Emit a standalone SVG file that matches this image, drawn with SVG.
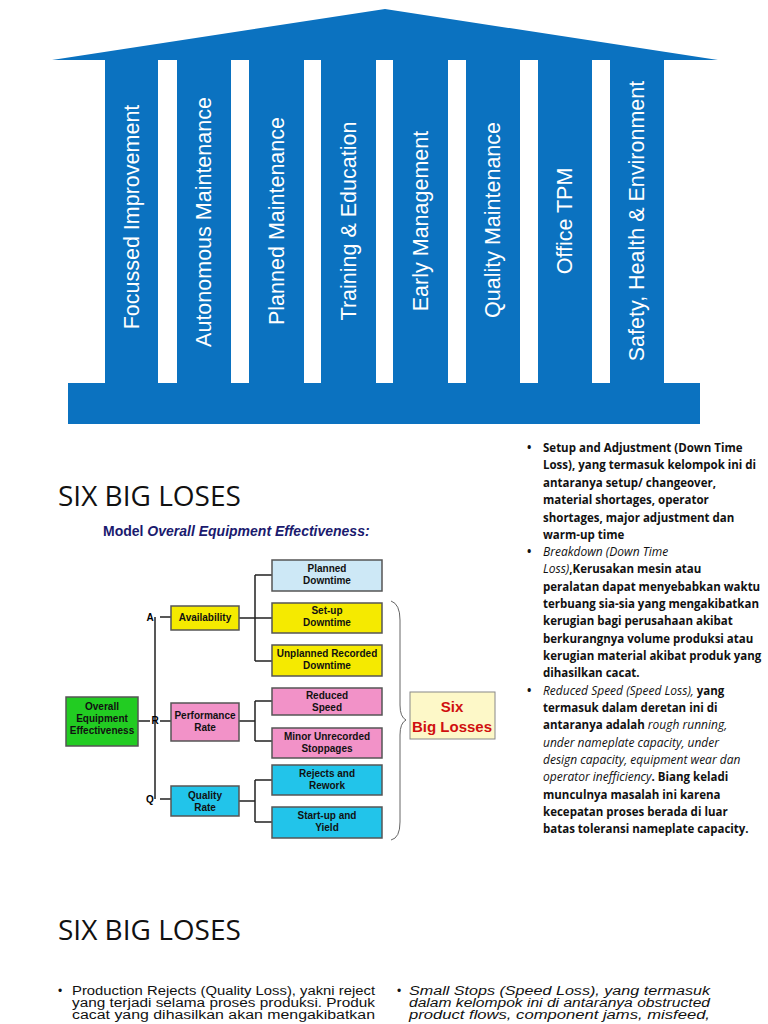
<svg xmlns="http://www.w3.org/2000/svg" width="768" height="1024" viewBox="0 0 768 1024">
<style>
.col{fill:#0b72c0}
.ct{fill:#fff;font-family:"Liberation Sans",sans-serif;font-size:21.5px;text-anchor:middle}
.bx{stroke:#555;stroke-width:1.5}
.bt{font-family:"Liberation Sans",sans-serif;font-size:10px;font-weight:bold;text-anchor:middle;fill:#111}
.ln{stroke:#222;stroke-width:1.5;fill:none}
.rt{font-family:"Open Sans","Liberation Sans",sans-serif;font-size:11.5px;font-weight:bold;fill:#111}
.it{font-style:italic;font-weight:normal;font-size:12px}
.h{font-family:"Open Sans","Liberation Sans",sans-serif;font-size:28px;fill:#111}
.bo{font-family:"Liberation Sans Narrow","Liberation Sans",sans-serif;font-size:12px;fill:#111}
</style>
<rect width="768" height="1024" fill="#fff"/>
<g id="temple">
<polygon class="col" points="52,60 385,9 718,60"/>
<rect class="col" x="68" y="383" width="632" height="41"/>
<rect class="col" x="105" y="58" width="53" height="326"/>
<rect class="col" x="177" y="58" width="54" height="326"/>
<rect class="col" x="249" y="58" width="55" height="326"/>
<rect class="col" x="321" y="58" width="55" height="326"/>
<rect class="col" x="393" y="58" width="55" height="326"/>
<rect class="col" x="466" y="58" width="54" height="326"/>
<rect class="col" x="538" y="58" width="54" height="326"/>
<rect class="col" x="610" y="58" width="54" height="326"/>
<text class="ct" transform="translate(139,217) rotate(-90)">Focussed Improvement</text>
<text class="ct" transform="translate(211,222) rotate(-90)">Autonomous Maintenance</text>
<text class="ct" transform="translate(284,221) rotate(-90)">Planned Maintenance</text>
<text class="ct" transform="translate(356,221) rotate(-90)">Training &amp; Education</text>
<text class="ct" transform="translate(428,221) rotate(-90)">Early Management</text>
<text class="ct" transform="translate(500,220) rotate(-90)">Quality Maintenance</text>
<text class="ct" transform="translate(572,221) rotate(-90)">Office TPM</text>
<text class="ct" transform="translate(644,221) rotate(-90)">Safety, Health &amp; Environment</text>
</g>
<text class="h" x="58" y="506">SIX BIG LOSES</text>
<text class="h" x="58" y="940">SIX BIG LOSES</text>
<text x="103" y="536" font-family="Liberation Sans,sans-serif" font-size="14" font-weight="bold" fill="#1a1a6e">Model <tspan font-style="italic">Overall Equipment Effectiveness:</tspan></text>
<g id="connectors">
<path class="ln" d="M155,617 V799 M160,617 H171 M138,721 H150 M160,721 H171 M160,799 H171"/>
<path class="ln" d="M239,618 H272 M255,575 V661 M255,575 H272 M255,661 H272"/>
<path class="ln" d="M239,721 H255 M255,701 V741 M255,701 H272 M255,741 H272"/>
<path class="ln" d="M239,801 H255 M255,780 V822 M255,780 H272 M255,822 H272"/>
<path d="M391,601 Q400,604 400,620 V705 Q400,717 406,720 Q400,723 400,735 V822 Q400,838 391,840" fill="none" stroke="#666" stroke-width="1"/>
</g>
<g id="labels" font-family="Liberation Sans,sans-serif" font-size="10" font-weight="bold">
<text x="150" y="621" text-anchor="middle">A</text>
<text x="155" y="724" text-anchor="middle">R</text>
<text x="150" y="803" text-anchor="middle">Q</text>
</g>
<g id="oee"><rect class="bx" x="66" y="697" width="72" height="49" fill="#22cc22"/><text class="bt"><tspan x="102" y="710">Overall</tspan><tspan x="102" y="722">Equipment</tspan><tspan x="102" y="734">Effectiveness</tspan></text></g>
<g id="avail"><rect class="bx" x="171" y="606" width="68" height="24" fill="#f5ea00"/><text class="bt" x="205" y="621">Availability</text></g>
<g id="perf"><rect class="bx" x="171" y="703" width="68" height="38" fill="#f292c8"/><text class="bt"><tspan x="205" y="719">Performance</tspan><tspan x="205" y="731">Rate</tspan></text></g>
<g id="qual"><rect class="bx" x="171" y="786" width="68" height="30" fill="#22c4ea"/><text class="bt"><tspan x="205" y="799">Quality</tspan><tspan x="205" y="811">Rate</tspan></text></g>
<g id="planned"><rect class="bx" x="272" y="560" width="110" height="31" fill="#cde8f6"/><text class="bt"><tspan x="327" y="572">Planned</tspan><tspan x="327" y="584">Downtime</tspan></text></g>
<g id="setup"><rect class="bx" x="272" y="603" width="110" height="30" fill="#f5ea00"/><text class="bt"><tspan x="327" y="614">Set-up</tspan><tspan x="327" y="626">Downtime</tspan></text></g>
<g id="unplanned"><rect class="bx" x="272" y="645" width="110" height="31" fill="#f5ea00"/><text class="bt"><tspan x="327" y="657">Unplanned Recorded</tspan><tspan x="327" y="669">Downtime</tspan></text></g>
<g id="reduced"><rect class="bx" x="272" y="688" width="110" height="27" fill="#f292c8"/><text class="bt"><tspan x="327" y="699">Reduced</tspan><tspan x="327" y="711">Speed</tspan></text></g>
<g id="minor"><rect class="bx" x="272" y="728" width="110" height="30" fill="#f292c8"/><text class="bt"><tspan x="327" y="740">Minor Unrecorded</tspan><tspan x="327" y="752">Stoppages</tspan></text></g>
<g id="rejects"><rect class="bx" x="272" y="765" width="110" height="30" fill="#22c4ea"/><text class="bt"><tspan x="327" y="777">Rejects and</tspan><tspan x="327" y="789">Rework</tspan></text></g>
<g id="startup"><rect class="bx" x="272" y="807" width="110" height="31" fill="#22c4ea"/><text class="bt"><tspan x="327" y="819">Start-up and</tspan><tspan x="327" y="831">Yield</tspan></text></g>
<g id="six"><rect x="410" y="692" width="85" height="47" fill="#fdf8c8" stroke="#888" stroke-width="1"/><text font-family="Liberation Sans,sans-serif" font-size="15" font-weight="bold" fill="#d01010" text-anchor="middle"><tspan x="452" y="712">Six</tspan><tspan x="452" y="732">Big Losses</tspan></text></g>
<g class="rt">
<text x="527" y="452">•</text><text x="527" y="556">•</text><text x="527" y="695">•</text>
<text x="543" y="452">Setup and Adjustment (Down Time</text>
<text x="543" y="469">Loss), yang termasuk kelompok ini di</text>
<text x="543" y="487">antaranya setup/ changeover,</text>
<text x="543" y="504">material shortages, operator</text>
<text x="543" y="522">shortages, major adjustment dan</text>
<text x="543" y="539">warm-up time</text>
<text x="543" y="556" class="it">Breakdown (Down Time</text>
<text x="543" y="573"><tspan class="it">Loss)</tspan>,Kerusakan mesin atau</text>
<text x="543" y="591">peralatan dapat menyebabkan waktu</text>
<text x="543" y="608">terbuang sia-sia yang mengakibatkan</text>
<text x="543" y="625">kerugian bagi perusahaan akibat</text>
<text x="543" y="643">berkurangnya volume produksi atau</text>
<text x="543" y="660">kerugian material akibat produk yang</text>
<text x="543" y="677">dihasilkan cacat.</text>
<text x="543" y="695"><tspan class="it">Reduced Speed (Speed Loss),</tspan> yang</text>
<text x="543" y="712">termasuk dalam deretan ini di</text>
<text x="543" y="729">antaranya adalah <tspan class="it">rough running,</tspan></text>
<text x="543" y="747" class="it">under nameplate capacity, under</text>
<text x="543" y="764" class="it">design capacity, equipment wear dan</text>
<text x="543" y="781"><tspan class="it">operator inefficiency</tspan>. Biang keladi</text>
<text x="543" y="799">munculnya masalah ini karena</text>
<text x="543" y="816">kecepatan proses berada di luar</text>
<text x="543" y="833">batas toleransi nameplate capacity.</text>
</g>
<g class="bo">
<text x="58" y="995">•</text>
<text x="72" y="995" textLength="303" lengthAdjust="spacingAndGlyphs">Production Rejects (Quality Loss), yakni reject</text>
<text x="72" y="1007" textLength="303" lengthAdjust="spacingAndGlyphs">yang terjadi selama proses produksi. Produk</text>
<text x="72" y="1019" textLength="303" lengthAdjust="spacingAndGlyphs">cacat yang dihasilkan akan mengakibatkan</text>
<text x="397" y="995">•</text>
<g font-style="italic">
<text x="409" y="995" textLength="301" lengthAdjust="spacingAndGlyphs">Small Stops (Speed Loss), yang termasuk</text>
<text x="409" y="1007" textLength="301" lengthAdjust="spacingAndGlyphs">dalam kelompok ini di antaranya obstructed</text>
<text x="409" y="1019" textLength="301" lengthAdjust="spacingAndGlyphs">product flows, component jams, misfeed,</text>
</g>
</g>
</svg>
